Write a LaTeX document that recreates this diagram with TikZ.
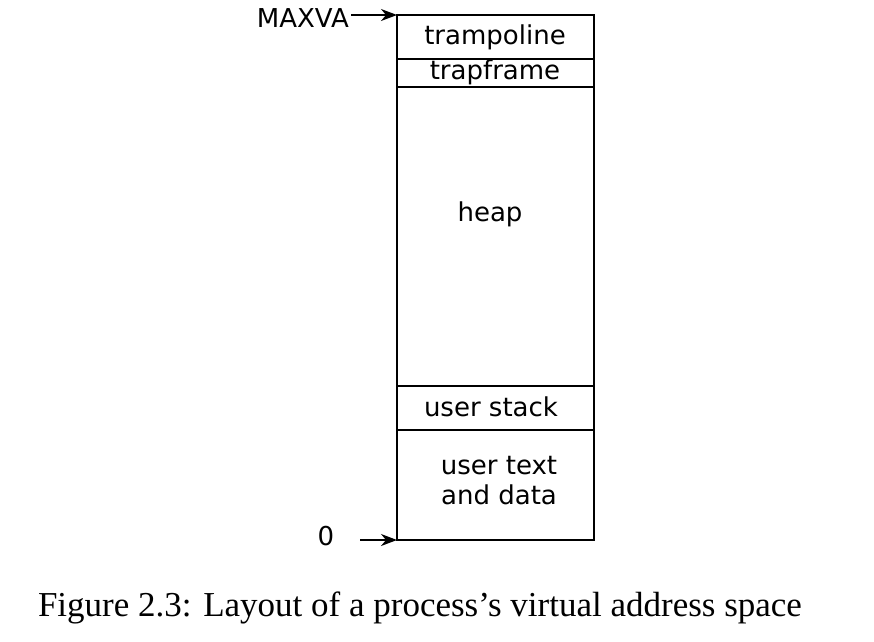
\documentclass[tikz,border=0pt]{standalone}
\usetikzlibrary{arrows.meta}
\usepackage{fontspec}
\setmainfont{Liberation Serif}
\newfontfamily\lab{DejaVu Sans}
\begin{document}
\begin{tikzpicture}[x=1pt,y=-1pt,
  lbl/.style={font=\lab\fontsize{26}{30}\selectfont,align=center,inner sep=0pt},
  arr/.style={-{Stealth[length=16pt,width=12pt,inset=5pt]},line width=1.2pt}]
\useasboundingbox (0,0) rectangle (874,641);
\draw[line width=1.2pt] (397,15) rectangle (594,540);
\foreach \y in {59,87,386,430} \draw[line width=1.2pt] (397,\y) -- (594,\y);
\node[lbl] (tr) at (495,37) {trampoline};
\node[lbl] (tf) at (495,72) {trapframe};
\node[lbl] (hp) at (490,214) {heap};
\node[lbl] (us) at (491,407) {user stack};
\node[lbl] (ut) at (499,481) {user text\\and data};
\coordinate (top) at (397,15);
\coordinate (bot) at (397,540);
\node[lbl,anchor=east] (mx) at (349,18) {MAXVA};
\node[lbl] (z) at (326,536) {0};
\coordinate (a1) at (351,15);
\coordinate (a2) at (360,540);
\draw[arr] (a1) -- (top);
\draw[arr] (a2) -- (bot);
\node[font=\fontsize{35}{40}\selectfont,inner sep=0pt] (cap) at (420,608) {Figure 2.3: Layout of a process's virtual address space};
\end{tikzpicture}
\end{document}
